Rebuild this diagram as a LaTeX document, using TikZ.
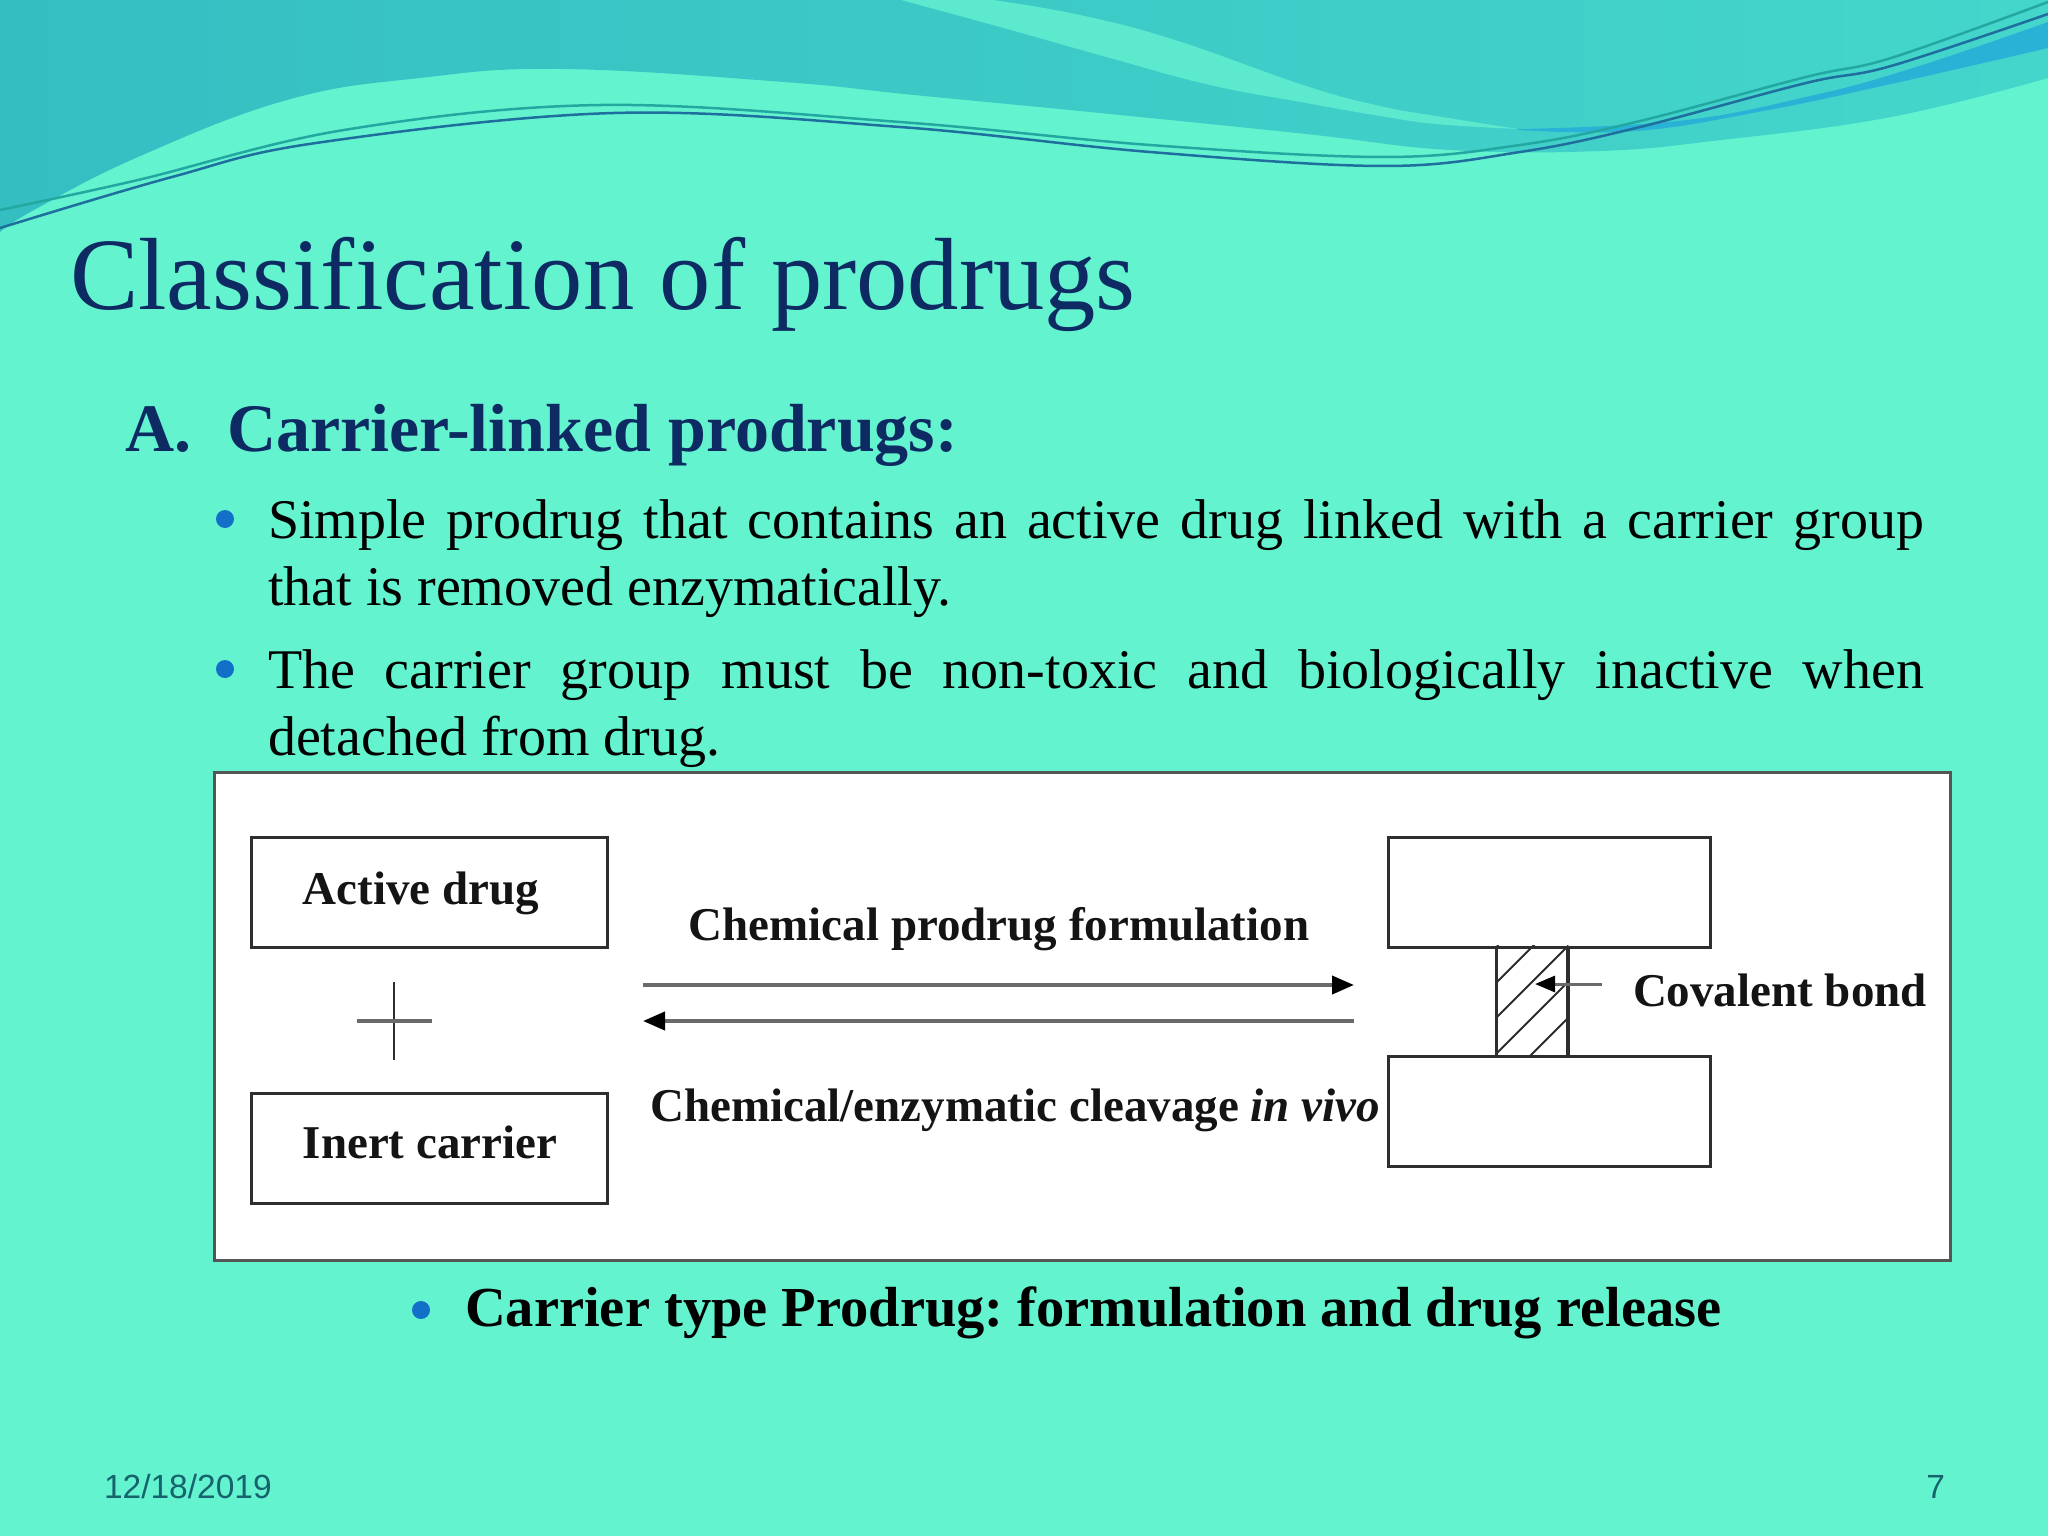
\documentclass[tikz,border=0pt]{standalone}
\usepackage{fontspec}
\setmainfont{Liberation Serif}
\setsansfont{Liberation Sans}
\usetikzlibrary{arrows.meta}
\frenchspacing
\definecolor{mint}{HTML}{64F3CF}
\definecolor{tealL}{HTML}{35BEC2}
\definecolor{tealR}{HTML}{44D6CB}
\definecolor{crescent}{HTML}{5CE9CE}
\definecolor{bluestrip}{HTML}{2AB2D6}
\definecolor{lineA}{HTML}{22A8A0}
\definecolor{lineB}{HTML}{1E6E9E}
\definecolor{navy}{HTML}{0E2A63}
\definecolor{bulletblue}{HTML}{1370C8}
\definecolor{footer}{HTML}{16636E}
\definecolor{framegray}{HTML}{555555}
\definecolor{boxgray}{HTML}{2E2E2E}
\definecolor{arrowgray}{HTML}{6A6A6A}
\tikzset{
  txt/.style={inner sep=0pt, outer sep=0pt, anchor=base west},
  bodytxt/.style={txt, font=\fontsize{56}{67}\selectfont},
  diagtxt/.style={inner sep=0pt, outer sep=0pt, anchor=base, text=black!92, font=\bfseries\fontsize{47}{56}\selectfont},
  dbox/.style={draw=boxgray, line width=3pt, fill=white, inner sep=0pt},
  bulletdot/.style={circle, fill=bulletblue, inner sep=0pt, minimum size=18pt},
  flow/.style={draw=arrowgray, line width=4pt, -{Triangle[length=22pt,width=18pt,color=black]}},
}
\begin{document}
\begin{tikzpicture}[x=1pt,y=-1pt]
\useasboundingbox (0,0) rectangle (2048,1536);
% background
\fill[mint] (0,0) rectangle (2048,1536);
% top teal wave
\shade[left color=tealL, right color=tealR] (0,0) -- (2048,0) -- plot[smooth, tension=0.7] coordinates {(2048,78) (1891,117) (1721,140) (1600,151) (1450,150) (1306,134) (1100,113) (914,95) (784,82) (562,69) (420,78) (287,100) (138,157) (34,210) (0,232)} -- cycle;
% light crescent
\fill[crescent] plot[smooth, tension=0.7] coordinates {(901,0) (1000,27) (1110,58) (1210,85) (1306,103) (1380,116) (1436,124) (1518,129)} -- plot[smooth, tension=0.7] coordinates {(1518,129) (1436,116) (1380,106) (1306,86) (1175,40) (1080,15) (993,0)} -- cycle;
% blue strip
\fill[bluestrip] plot[smooth, tension=0.7] coordinates {(1518,129) (1678,121) (1806,97) (1913,68) (2048,22)} -- plot[smooth, tension=0.7] coordinates {(2048,48) (1891,84) (1763,111) (1636,131) (1518,130)} -- cycle;
% thin lines
\draw[lineA, line width=2.5pt] plot[smooth, tension=0.6] coordinates {(0,210) (138,180) (344,130) (601,105) (900,122) (1150,145) (1384,157) (1520,145) (1636,122) (1806,77) (1891,58) (2048,2)};
\draw[lineB, line width=2.5pt] plot[smooth, tension=0.6] coordinates {(0,228) (172,177) (316,143) (614,113) (900,127) (1150,152) (1384,166) (1520,152) (1636,128) (1806,83) (1891,66) (2048,14)};

% title
\node[txt, text=navy, font=\fontsize{102.6}{120}\selectfont] (title) at (70,309) {Classification of prodrugs};
% heading
\node[txt, text=navy, font=\bfseries\fontsize{68}{80}\selectfont] (headA) at (125,451) {A.};
\node[txt, text=navy, font=\bfseries\fontsize{68}{80}\selectfont] (head) at (227,451) {Carrier-linked prodrugs:};

% bullets
\node[bulletdot] (b1) at (225,519) {};
\node[bodytxt] (l1) at (268,538) {\makebox[1656pt][s]{Simple prodrug that contains an active drug linked with a carrier group}};
\node[bodytxt] (l2) at (268,605) {that is removed enzymatically.};
\node[bulletdot] (b2) at (225,669) {};
\node[bodytxt] (l3) at (268,688) {\makebox[1656pt][s]{The carrier group must be non-toxic and biologically inactive when}};
\node[bodytxt] (l4) at (268,755) {detached from drug.};

% diagram frame
\node[draw=framegray, line width=3pt, fill=white, inner sep=0pt, minimum width=1736pt, minimum height=488pt] (frame) at (1082,1016) {};

% left boxes
\node[dbox, minimum width=356pt, minimum height=110pt] (active) at (429,892) {};
\node[diagtxt] (activeT) at (421,904) {Active drug};
\node[dbox, minimum width=356pt, minimum height=110pt] (inert) at (429,1148) {};
\node[diagtxt] (inertT) at (430,1158) {Inert carrier};

% plus sign
\coordinate (plusT) at (394,982);
\coordinate (plusB) at (394,1060);
\coordinate (plusL) at (357,1021);
\coordinate (plusR) at (432,1021);
\draw[boxgray, line width=2.5pt] (plusT) -- (plusB);
\draw[arrowgray, line width=4pt] (plusL) -- (plusR);

% arrows
\coordinate (fwdS) at (643,985);
\coordinate (fwdE) at (1354,985);
\coordinate (revS) at (1354,1021);
\coordinate (revE) at (643,1021);
\draw[flow] (fwdS) -- (fwdE);
\draw[flow] (revS) -- (revE);
\node[diagtxt] (fwdT) at (999,940) {Chemical prodrug formulation};
\node[diagtxt] (revT) at (1015,1121) {Chemical/enzymatic cleavage \textit{in vivo}};

% right boxes
\node[dbox, minimum width=322pt, minimum height=110pt] (drugR) at (1549,892) {};
\node[dbox, minimum width=322pt, minimum height=110pt] (carrR) at (1549,1111) {};
\node[draw=boxgray, line width=2.5pt, inner sep=0pt, minimum width=70pt, minimum height=109pt] (bond) at (1532,1001.5) {};
\begin{scope}
\clip (bond.north west) rectangle (bond.south east);
\foreach \c in {946,982,1017,1053,1089} {
  \draw[boxgray, line width=2pt] (1497,\c) -- ++(80,-80);
}
\end{scope}
\draw[boxgray, line width=2.5pt] (bond.north west) -- (bond.south west);
\draw[boxgray, line width=2.5pt] (bond.north east) -- (bond.south east);
\coordinate (bondLblS) at (1602,984);
\coordinate (bondTip) at (1535,984);
\draw[draw=arrowgray, line width=3pt, -{Triangle[length=20pt,width=16pt,color=black]}] (bondLblS) -- (bondTip);
\node[diagtxt, anchor=base west] (bondT) at (1633,1006) {Covalent bond};

% caption
\node[bulletdot] (b3) at (421,1310) {};
\node[txt, font=\bfseries\fontsize{56.5}{67}\selectfont] (cap) at (465,1326) {Carrier type Prodrug: formulation and drug release};

% footer
\node[txt, text=footer, font=\sffamily\fontsize{33.5}{40}\selectfont] (date) at (104,1498) {12/18/2019};
\node[inner sep=0pt, outer sep=0pt, anchor=base east, text=footer, font=\sffamily\fontsize{33.5}{40}\selectfont] (page) at (1945,1498) {7};
\end{tikzpicture}
\end{document}
